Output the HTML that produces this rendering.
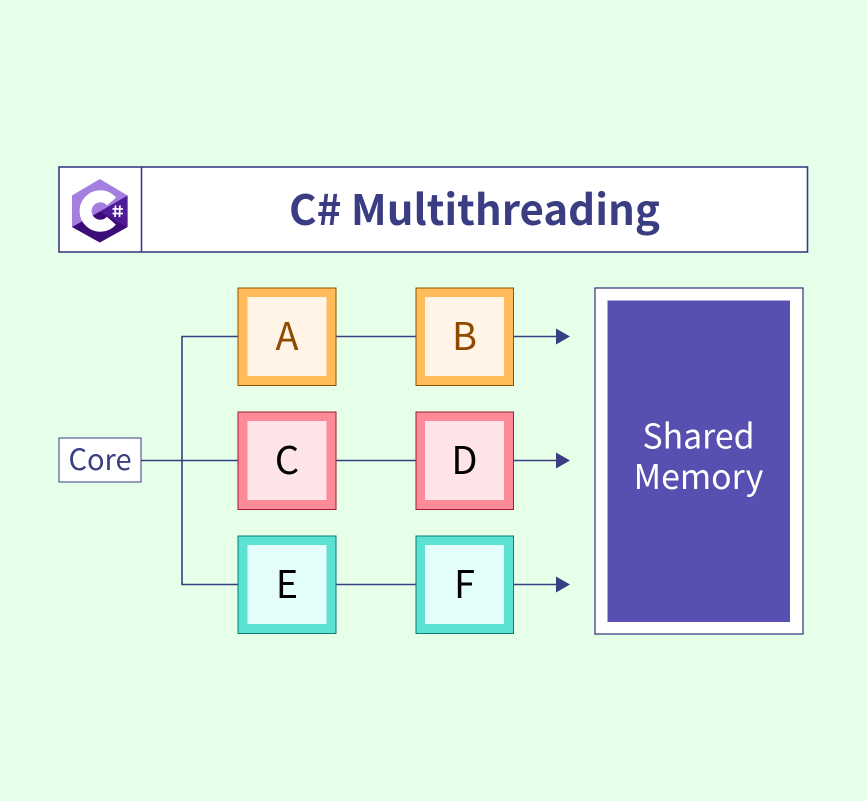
<!DOCTYPE html>
<html>
<head>
<meta charset="utf-8">
<style>
html,body{margin:0;padding:0;background:#e5ffe9}
svg{display:block}
text{font-family:"Noto Sans CJK KR","Noto Sans CJK SC","Liberation Sans",sans-serif;text-anchor:middle}
</style>
</head>
<body>
<svg width="867" height="801" viewBox="0 0 867 801" xmlns="http://www.w3.org/2000/svg">
<rect width="867" height="801" fill="#e5ffe9"/>

<!-- Title -->
<rect x="59" y="167" width="748.5" height="85" fill="#fff" stroke="#3b3d82" stroke-width="1.6"/>
<line x1="141.5" y1="167" x2="141.5" y2="252" stroke="#3b3d82" stroke-width="1.6"/>
<text x="474.5" y="225" font-size="42" font-weight="700" fill="#3b3d82">C# Multithreading</text>

<!-- Logo -->
<polygon points="99.8,179 127.6,195.500 127.6,227 99.8,242.500 72,227 72,195.500" fill="#a57fdf"/>
<polygon points="127.6,195.500 127.6,227 100.3,211.300" fill="#4f1c98"/>
<polygon points="72,227 100.3,211.300 127.6,227 99.8,242.500" fill="#3c0d78"/>
<circle cx="100.3" cy="211" r="14.7" fill="none" stroke="#fff" stroke-width="12" stroke-dasharray="71.4 21" transform="rotate(41 100.3 211)"/>
<g stroke="#fff" stroke-width="1.7">
<line x1="115.500" y1="205.500" x2="115" y2="217"/>
<line x1="120" y1="205.500" x2="119.500" y2="217"/>
<line x1="112.500" y1="209" x2="123" y2="209"/>
<line x1="112.500" y1="213.500" x2="123" y2="213.500"/>
</g>

<!-- Connectors -->
<g fill="none" stroke="#3b3d82" stroke-width="1.6">
<path d="M141 460.5H238"/>
<path d="M238 336.5H182V584.5H238"/>
<path d="M336 336.5H416"/>
<path d="M336 460.5H416"/>
<path d="M336 584.5H416"/>
<path d="M513 336.5H557"/>
<path d="M513 460.5H557"/>
<path d="M513 584.5H557"/>
</g>
<g fill="#3b3d82">
<polygon points="556,328.5 570,336.5 556,344.5"/>
<polygon points="556,452.5 570,460.5 556,468.5"/>
<polygon points="556,576.5 570,584.5 556,592.5"/>
</g>

<!-- Core -->
<rect x="59" y="438" width="82" height="44" fill="#fff" stroke="#3b3d82" stroke-width="1"/>
<text x="100" y="470" font-size="29" fill="#3b3d82">Core</text>

<!-- Orange -->
<rect x="238" y="288" width="98" height="97.500" fill="#ffbc58" stroke="#8f5200" stroke-width="1"/>
<rect x="247.500" y="297" width="79" height="79" fill="#fff4e6"/>
<text x="287" y="350" font-size="38" fill="#8f4a00">A</text>
<rect x="416" y="288" width="97.500" height="97.500" fill="#ffbc58" stroke="#8f5200" stroke-width="1"/>
<rect x="425" y="297" width="79" height="79" fill="#fff4e6"/>
<text x="464.500" y="350" font-size="38" fill="#8f4a00">B</text>

<!-- Red -->
<rect x="238" y="412" width="98" height="97.500" fill="#fd8a98" stroke="#a31b2b" stroke-width="1"/>
<rect x="247.500" y="421" width="79" height="79" fill="#ffe4e7"/>
<text x="287" y="474" font-size="38" fill="#000">C</text>
<rect x="416" y="412" width="97.500" height="97.500" fill="#fd8a98" stroke="#a31b2b" stroke-width="1"/>
<rect x="425" y="421" width="79" height="79" fill="#ffe4e7"/>
<text x="464.500" y="474" font-size="38" fill="#000">D</text>

<!-- Teal -->
<rect x="238" y="536" width="98" height="97.500" fill="#5ce2d2" stroke="#0e7a72" stroke-width="1"/>
<rect x="247.500" y="545" width="79" height="79" fill="#e4fffb"/>
<text x="287" y="598" font-size="38" fill="#000">E</text>
<rect x="416" y="536" width="97.500" height="97.500" fill="#5ce2d2" stroke="#0e7a72" stroke-width="1"/>
<rect x="425" y="545" width="79" height="79" fill="#e4fffb"/>
<text x="464.500" y="598" font-size="38" fill="#000">F</text>

<!-- Shared Memory -->
<rect x="595" y="288" width="208" height="346" fill="#fff" stroke="#3b3d82" stroke-width="1.300"/>
<rect x="607.500" y="300.500" width="182.500" height="321.500" fill="#5850b0"/>
<text x="698.500" y="448.500" font-size="33.800" fill="#fff">Shared</text>
<text x="698.500" y="489" font-size="33.800" fill="#fff">Memory</text>
</svg>
</body>
</html>
